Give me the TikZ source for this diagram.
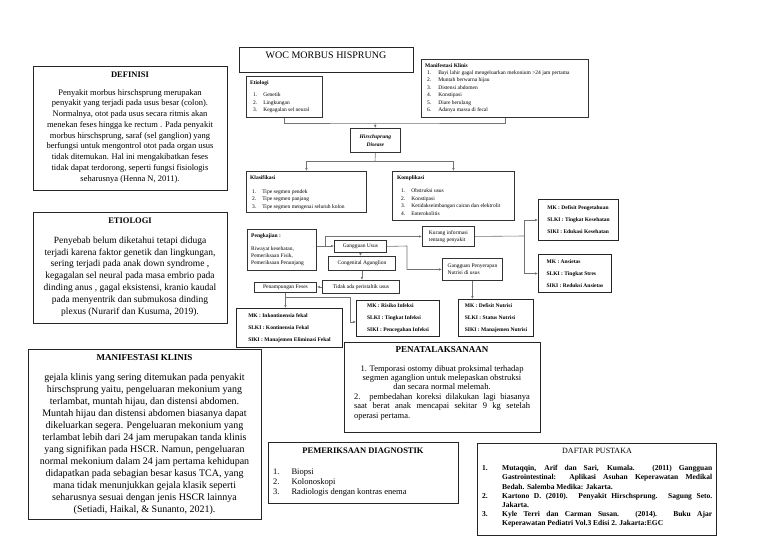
\documentclass[tikz,border=0pt]{standalone}
\usepackage{fontspec}
\setmainfont{Liberation Serif}
\usetikzlibrary{arrows.meta,calc}
\newcommand{\fsz}[2]{\fontsize{#1}{#2}\selectfont}
\begin{document}
\begin{tikzpicture}[x=1pt,y=-1pt,
  bx/.style={draw=black!85, line width=0.8pt, inner sep=0pt, anchor=north west},
  fbox/.style={draw=black!80, line width=0.9pt, inner sep=0pt, anchor=north west, font=\fsz{5.5}{7}},
  mkbox/.style={draw=black!85, line width=1pt, inner sep=0pt, inner xsep=3pt, anchor=north west, align=left, font=\bfseries\fsz{5.5}{12}},
  txt/.style={inner sep=0pt},
  smalllist/.style={txt, anchor=west, font=\fsz{5.5}{7.5}},
  conn/.style={draw=black!55, line width=0.6pt},
  arr/.style={conn, -{Latex[length=3pt,width=2.6pt]}},
]
\useasboundingbox (0,0) rectangle (768,543);
\fill[white] (0,0) rectangle (768,543);

% ---------- DEFINISI ----------
\node[bx, minimum width=194pt, minimum height=124pt] (def) at (33,66) {};
\node[txt, font=\bfseries\fsz{8.5}{10}] (deft) at (130,75) {DEFINISI};
\node[txt, align=center, font=\fsz{8.5}{10.75}] (defb) at (130,136) {Penyakit morbus hirschsprung merupakan\\
penyakit yang terjadi pada usus besar (colon).\\
Normalnya, otot pada usus secara ritmis akan\\
menekan feses hingga ke rectum . Pada penyakit\\
morbus hirschsprung, saraf (sel ganglion) yang\\
berfungsi untuk mengontrol otot pada organ usus\\
tidak ditemukan. Hal ini mengakibatkan feses\\
tidak dapat terdorong, seperti fungsi fisiologis\\
seharusnya (Henna N, 2011).};

% ---------- ETIOLOGI ----------
\node[bx, minimum width=194pt, minimum height=111pt] (eti) at (33,212) {};
\node[txt, font=\bfseries\fsz{8.5}{10}] (etit) at (130,221) {ETIOLOGI};
\node[txt, align=center, font=\fsz{9.5}{11.8}] (etib) at (130,276.5) {Penyebab belum diketahui tetapi diduga\\
terjadi karena faktor genetik dan lingkungan,\\
sering terjadi pada anak down syndrome ,\\
kegagalan sel neural pada masa embrio pada\\
dinding anus , gagal eksistensi, kranio kaudal\\
pada menyentrik dan submukosa dinding\\
plexus (Nurarif dan Kusuma, 2019).};

% ---------- MANIFESTASI KLINIS ----------
\node[bx, minimum width=233pt, minimum height=170pt] (man) at (28,349) {};
\node[txt, font=\bfseries\fsz{9}{11}] (mant) at (144.5,358) {MANIFESTASI KLINIS};
\node[txt, align=center, font=\fsz{10}{12}] (manb) at (144.5,444) {gejala klinis yang sering ditemukan pada penyakit\\
hirschsprung yaitu, pengeluaran mekonium yang\\
terlambat, muntah hijau, dan distensi abdomen.\\
Muntah hijau dan distensi abdomen biasanya dapat\\
dikeluarkan segera. Pengeluaran mekonium yang\\
terlambat lebih dari 24 jam merupakan tanda klinis\\
yang signifikan pada HSCR. Namun, pengeluaran\\
normal mekonium dalam 24 jam pertama kehidupan\\
didapatkan pada sebagian besar kasus TCA, yang\\
mana tidak menunjukkan gejala klasik seperti\\
seharusnya sesuai dengan jenis HSCR lainnya\\
(Setiadi, Haikal, \& Sunanto, 2021).};

% ---------- WOC title ----------
\node[bx, line width=1.2pt, minimum width=174pt, minimum height=25pt] (woc) at (239,47) {};
\node[txt, font=\fsz{10}{12}] (woct) at (326,55) {WOC MORBUS HISPRUNG};

% ---------- Etiologi (small) ----------
\node[fbox, minimum width=76pt, minimum height=41pt] (etiS) at (246,76) {};
\node[txt, anchor=west, font=\bfseries\fsz{5.5}{7}] (etiSt) at (250,83) {Etiologi};
\node[smalllist] (etiSl) at (253,102.5) {\begin{tabular}{@{}l@{\hspace{6pt}}l@{}}1. & Genetik\\ 2. & Lingkungan\\ 3. & Kegagalan sel neural\end{tabular}};

% ---------- Manifestasi Klinis (small) ----------
\node[fbox, minimum width=167pt, minimum height=58pt] (manS) at (421,59) {};
\node[txt, anchor=west, font=\bfseries\fsz{5.5}{7}] (manSt) at (425,66) {Manifestasi Klinis};
\node[smalllist] (manSl) at (427,91.5) {\begin{tabular}{@{}l@{\hspace{7pt}}l@{}}1. & Bayi lahir gagal mengeluarkan mekonium >24 jam pertama\\ 2. & Muntah berwarna hijau\\ 3. & Distensi abdomen\\ 4. & Konstipasi\\ 5. & Diare berulang\\ 6. & Adanya massa di fecal\end{tabular}};

% ---------- Hirschsprung Disease ----------
\node[fbox, minimum width=50pt, minimum height=24pt, align=center, font=\bfseries\itshape\fsz{5.5}{8}] (hd) at (350,128) {Hirschsprung\\Disease};

% ---------- Klasifikasi ----------
\node[fbox, minimum width=120pt, minimum height=41pt] (kla) at (246,171) {};
\node[txt, anchor=west, font=\bfseries\fsz{5.5}{7}] (klat) at (250,178) {Klasifikasi};
\node[smalllist] (klal) at (252,199) {\begin{tabular}{@{}l@{\hspace{6pt}}l@{}}1. & Tipe segmen pendek\\ 2. & Tipe segmen panjang\\ 3. & Tipe segmen mengenai seluruh kolon\end{tabular}};

% ---------- Komplikasi ----------
\node[fbox, minimum width=122pt, minimum height=49pt] (kom) at (392,171) {};
\node[txt, anchor=west, font=\bfseries\fsz{5.5}{7}] (komt) at (397,178) {Komplikasi};
\node[smalllist] (koml) at (401,202.5) {\begin{tabular}{@{}l@{\hspace{6pt}}l@{}}1. & Obstruksi usus\\ 2. & Konstipasi\\ 3. & Ketidakseimbangan cairan dan elektrolit\\ 4. & Enterokolitis\end{tabular}};

% ---------- Pengkajian ----------
\node[fbox, minimum width=69pt, minimum height=41pt] (peng) at (247,229) {};
\node[txt, anchor=west, font=\bfseries\fsz{5.5}{7}] (pengt) at (251,236) {Pengkajian :};
\node[txt, anchor=west, align=left, font=\fsz{5.5}{7}] (pengl) at (251,256) {Riwayat kesehatan,\\Pemeriksaan Fisik,\\Pemeriksaan Penunjang};

% ---------- flow boxes ----------
\node[fbox, minimum width=52pt, minimum height=12pt] (gu) at (334,240) {Gangguan Usus};
\node[fbox, minimum width=52pt, minimum height=20pt, align=left] (ki) at (422,226) {Kurang informasi\\tentang penyakit};
\node[fbox, minimum width=67pt, minimum height=14pt] (ca) at (328,256) {Congenital Aganglion};
\node[fbox, minimum width=77pt, minimum height=13pt] (tap) at (322,280) {Tidak ada peristaltik usus};
\node[fbox, minimum width=62pt, minimum height=10pt] (pf) at (254,282) {Penampungan Feses};
\node[fbox, minimum width=60pt, minimum height=22pt, align=left] (gpn) at (442,258) {Gangguan Penyerapan\\Nutrisi di usus};

% ---------- MK boxes ----------
\node[mkbox, minimum width=80pt, minimum height=41pt] (mk1) at (538,199) {MK : Defisit Pengetahuan\\SLKI : Tingkat Kesehatan\\SIKI : Edukasi Kesehatan};
\node[mkbox, minimum width=73pt, minimum height=38pt] (mk2) at (538,254) {MK : Ansietas\\SLKI : Tingkat Stres\\SIKI : Reduksi Ansietas};
\node[mkbox, minimum width=106pt, minimum height=39pt] (mkif) at (236,308) {MK : Inkontinensia fekal\\SLKI : Kontinensia Fekal\\SIKI : Manajemen Eliminasi Fekal};
\node[mkbox, minimum width=83pt, minimum height=36pt] (mkri) at (356,300) {MK : Risiko Infeksi\\SLKI : Tingkat Infeksi\\SIKI : Pencegahan Infeksi};
\node[mkbox, minimum width=75pt, minimum height=37pt] (mkdn) at (458,299) {MK : Defisit Nutrisi\\SLKI : Status Nutrisi\\SIKI : Manajemen Nutrisi};

% ---------- PENATALAKSANAAN ----------
\node[bx, line width=1.2pt, minimum width=196pt, minimum height=90pt] (pen) at (344,342) {};
\node[txt, font=\bfseries\fsz{9}{11}] (pent) at (442,350) {PENATALAKSANAAN};
\node[txt, align=center, font=\fsz{8.5}{9.4}] (penb) at (442,392.5) {1. Temporasi ostomy dibuat proksimal terhadap\\
segmen aganglion untuk melepaskan obstruksi\\
dan secara normal melemah.\\
\makebox[176pt][s]{2. pembedahan koreksi dilakukan lagi biasanya}\\
\makebox[176pt][s]{saat berat anak mencapai sekitar 9 kg setelah}\\
\makebox[176pt][l]{operasi pertama.}};

% ---------- PEMERIKSAAN DIAGNOSTIK ----------
\node[bx, minimum width=190pt, minimum height=61pt] (pem) at (268,442) {};
\node[txt, font=\bfseries\fsz{8.5}{10}] (pemt) at (363,451) {PEMERIKSAAN DIAGNOSTIK};
\node[txt, anchor=west, font=\fsz{8.5}{10}] (peml) at (273,482) {\begin{tabular}{@{}l@{\hspace{12pt}}l@{}}1. & Biopsi\\ 2. & Kolonoskopi\\ 3. & Radiologis dengan kontras enema\end{tabular}};

% ---------- DAFTAR PUSTAKA ----------
\node[bx, minimum width=239pt, minimum height=92pt] (dp) at (477,443) {};
\node[txt, font=\fsz{8}{10}] (dpt) at (597,451) {DAFTAR PUSTAKA};
\node[txt, anchor=west, align=left, font=\bfseries\fsz{7.5}{9.2}] (dpl) at (482,496.5) {\makebox[20pt][l]{1.}\makebox[210pt][s]{Mutaqqin, Arif dan Sari, Kumala. (2011) Gangguan}\\
\hspace*{20pt}\makebox[210pt][s]{Gastrointestinal: Aplikasi Asuhan Keperawatan Medikal}\\
\hspace*{20pt}Bedah. Salemba Medika: Jakarta.\\
\makebox[20pt][l]{2.}\makebox[210pt][s]{Kartono D. (2010). Penyakit Hirschsprung. Sagung Seto.}\\
\hspace*{20pt}Jakarta.\\
\makebox[20pt][l]{3.}\makebox[210pt][s]{Kyle Terri dan Carman Susan. (2014). Buku Ajar}\\
\hspace*{20pt}Keperawatan Pediatri Vol.3 Edisi 2. Jakarta:EGC};

% ---------- connectors ----------
\coordinate (j1) at (375,123);
\draw[conn] (etiS.south) |- (j1) -| (manS.south);
\draw[arr] (j1) -- (hd.north);
\coordinate (j2) at (375,161);
\draw[conn] (hd.south) -- (j2);
\draw[arr] (j2) -| (kla.north);
\draw[arr] (j2) -| (kom.north);

\coordinate (j3) at (325,246);
\draw[arr] (peng.east |- j3) -- (gu.west |- j3);
\draw[arr] (j3) |- (ki.west);
\draw[arr] (gu.south) -- (gu.south |- ca.north);
\draw[arr] (ca.south) -- (ca.south |- tap.north);
\draw[arr] (tap.west) -- (pf.east |- tap.west);
\draw[arr] (pf.south) -- (pf.south |- mkif.north);
\coordinate (j4) at (285,297);
\coordinate (j5) at (350,322);
\draw[arr] (j4) -| (j5) -- (mkri.west |- j5);

\coordinate (j6) at (407,246);
\draw[arr] (gu.east) -- (j6) |- (gpn.west);
\draw[arr] (gpn.south) -- (gpn.south |- mkdn.north);

\coordinate (j7) at (524,236);
\draw[conn] (ki.east) -- (j7);
\draw[arr] (j7) |- (mk1.west);
\draw[arr] (j7) |- (mk2.west);
\end{tikzpicture}
\end{document}
